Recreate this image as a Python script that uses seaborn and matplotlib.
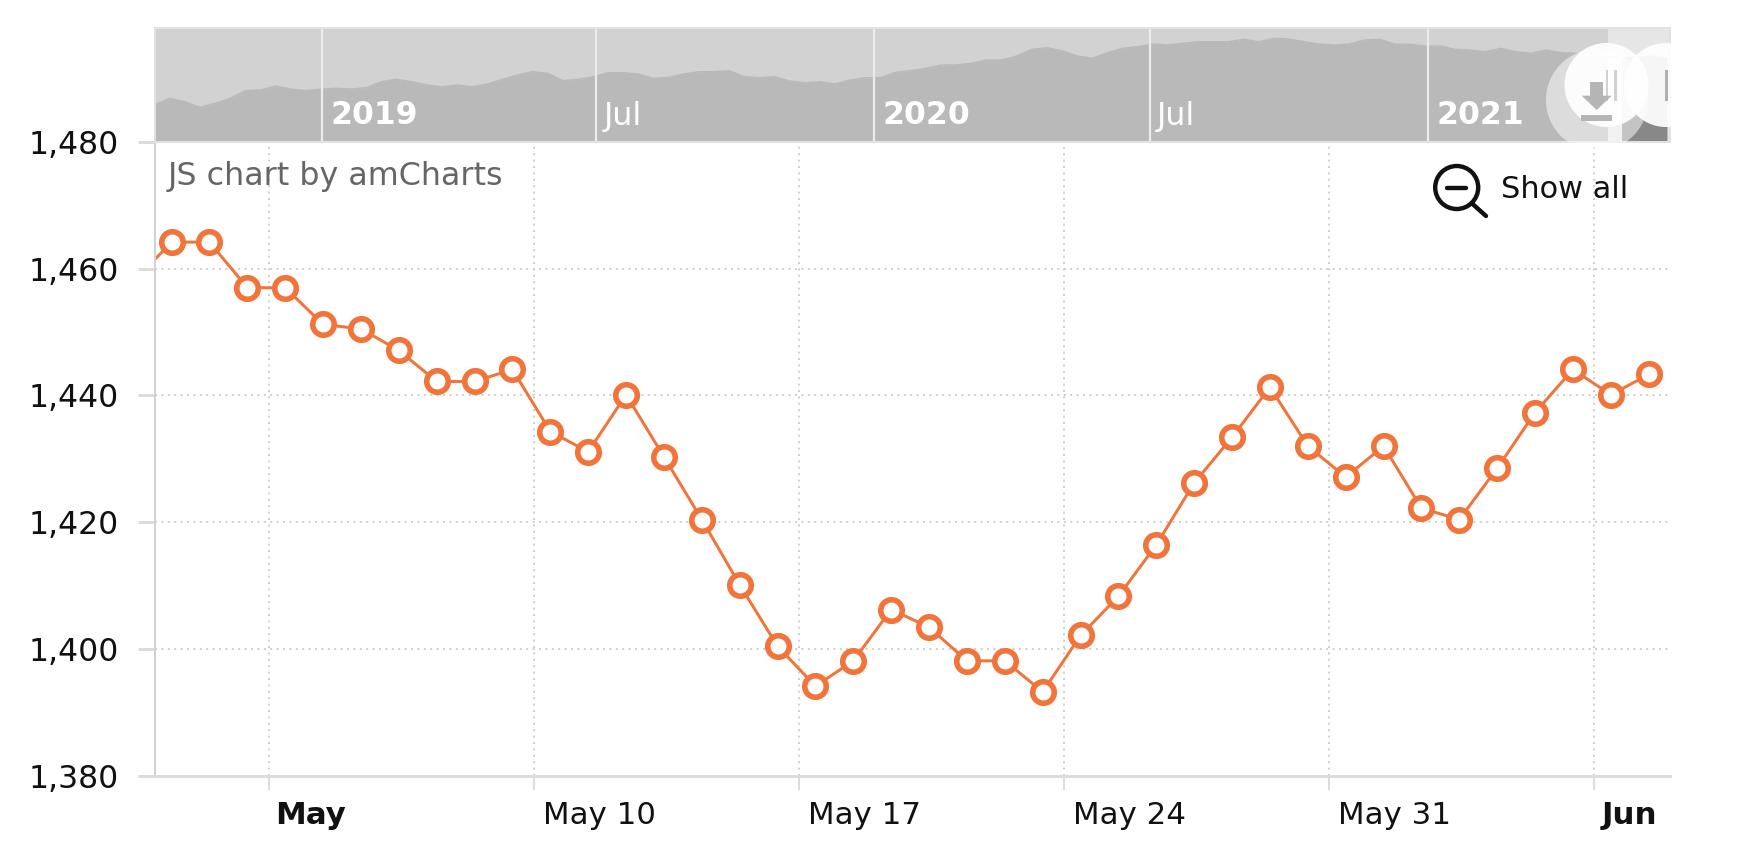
'''
Price chart with overview strip (amCharts look)
'''

import pandas as pd
import seaborn as sns
import matplotlib.pyplot as plt
import matplotlib.dates as mdates
from matplotlib.patches import Circle, Polygon, Rectangle
from matplotlib.transforms import ScaledTranslation

W, H = 1744, 868

# main series, first value sits left of the axis and only shows as the line entering
prices = [1458.0, 1464.2, 1464.2, 1457.0, 1457.0, 1451.2, 1450.5, 1447.1, 1442.2, 1442.2, 1444.1,
          1434.3, 1431.1, 1440.1, 1430.3, 1420.4, 1410.1, 1400.4, 1394.1, 1398.1, 1406.2,
          1403.4, 1398.1, 1398.1, 1393.2, 1402.1, 1408.3, 1416.4, 1426.2, 1433.4, 1441.3,
          1432.0, 1427.1, 1432.0, 1422.2, 1420.4, 1428.5, 1437.3, 1444.1, 1440.1, 1443.3]
y_ticks = [1380, 1400, 1420, 1440, 1460, 1480]
x_ticks = ["2021-05-03", "2021-05-10", "2021-05-17", "2021-05-24", "2021-05-31", "2021-06-07"]
x_labels = ["May", "May 10", "May 17", "May 24", "May 31", "Jun"]
x_bold = ["May", "Jun"]

# overview strip, one reading every 10 days (height in the strip)
overview = [37, 43.7, 40.3, 34.7, 38.7, 43.7, 51.3, 52, 56, 53, 51.3, 53, 53.7, 53, 54.3, 60.3, 62.7,
            60.3, 57, 55.3, 57, 55.3, 58, 62.7, 67, 70.3, 68.7, 61.3, 62.7, 65.3, 69.3, 69.3, 68,
            63.7, 64.7, 68, 70.3, 70.3, 71.3, 65.3, 64.3, 65.3, 61, 59.3, 60.3, 58, 62, 64.3, 64.3,
            69.7, 71.3, 73.7, 77, 77, 78.7, 82, 82, 86, 92.7, 94.3, 91.3, 86, 83.7, 89.3, 93.7, 95.3,
            98, 97, 98.7, 100.3, 100.3, 100.3, 102.7, 100.3, 103.7, 103, 100.3, 98, 97, 98, 102,
            102.7, 98, 97.7, 96, 96, 92.7, 92, 90.3, 93.7, 90.3, 88.7, 92, 89.3, 88.7, 85.3,
            85, 85, 86, 87, 85]
overview_ticks = ["2019-01-01", "2019-07-01", "2020-01-01", "2020-07-01", "2021-01-01"]
overview_labels = ["2019", "Jul", "2020", "Jul", "2021"]

sns.set_theme(style="white")
plt.rcParams['font.family'] = ['DejaVu Sans']

ORANGE = "#f1743a"
PX = 72 / 100  # one pixel in points at dpi 100

df = pd.DataFrame({"date": pd.date_range("2021-04-29 10:30", periods=len(prices), freq="D"), "price": prices})
df_over = pd.DataFrame({"date": pd.date_range("2018-09-12", periods=len(overview), freq="10D"), "level": overview})
sel_start, sel_end = pd.Timestamp("2021-04-30"), pd.Timestamp("2021-06-09")
ov_start, ov_end = pd.Timestamp("2018-09-12 08:00"), pd.Timestamp("2021-06-10")


def axes_px(left, top, right, bottom):
    return fig.add_axes([left / W, 1 - bottom / H, (right - left) / W, (bottom - top) / H])


fig = plt.figure(figsize=(W / 100, H / 100), dpi=100, facecolor="white")

'''
Main chart
'''
ax = axes_px(155, 142, 1670, 775.5)
ax.set_xlim(sel_start, sel_end)
ax.set_ylim(1380, 1480)
ax.grid(True, color="#cfcfcf", linestyle=(0, (1, 2.2)), linewidth=2 * PX)
ax.set_axisbelow(True)
sns.lineplot(data=df, x="date", y="price", ax=ax, color=ORANGE, linewidth=3 * PX, errorbar=None,
             marker="o", markersize=21.5 * PX, markerfacecolor="white",
             markeredgecolor=ORANGE, markeredgewidth=5.6 * PX)
ax.set_xlabel("")
ax.set_ylabel("")
ax.set_yticks(y_ticks)
ax.set_yticklabels([f"{v:,}" for v in y_ticks])
ax.set_xticks(pd.to_datetime(x_ticks))
ax.set_xticklabels(x_labels)
ax.tick_params(axis="y", left=True, length=17 * PX, width=3 * PX, color="#dcdcdc", pad=19 * PX,
               labelsize=22.7, labelcolor="#111111")
ax.tick_params(axis="x", bottom=True, length=14 * PX, width=2 * PX, color="#dcdcdc", pad=11.5 * PX,
               labelsize=22.2, labelcolor="#111111")
for lab in ax.get_xticklabels():
    bold = lab.get_text() in x_bold
    shift = ScaledTranslation((7 if bold else 9) / 100, 0, fig.dpi_scale_trans)
    lab.set_horizontalalignment("left")
    lab.set_transform(lab.get_transform() + shift)
    if bold:
        lab.set_fontweight("bold")
for side in ["top", "right"]:
    ax.spines[side].set_visible(False)
ax.spines["left"].set_color("#d2d2d2")
ax.spines["left"].set_linewidth(2 * PX)
ax.spines["bottom"].set_color("#dcdcdc")
ax.spines["bottom"].set_linewidth(3 * PX)

'''
Overview strip
'''
ov = axes_px(155, 28, 1670, 142)
ov.set_ylim(0, 114)
ov.set_facecolor("#d2d2d2")
before = df_over[df_over["date"] <= sel_start + pd.Timedelta(days=10)]
after = df_over[df_over["date"] >= sel_start - pd.Timedelta(days=10)]
ov.fill_between(before["date"], before["level"], 0, color="#b9b9b9", linewidth=0)
sns.lineplot(data=before, x="date", y="level", ax=ov, color="#b9b9b9", linewidth=1, errorbar=None)
ov.axvspan(sel_start, ov_end, color="#e6e6e6", linewidth=0)
ov.fill_between(after["date"], after["level"], 0, where=after["date"] >= sel_start, color="#888888", linewidth=0)
ov.set_xlim(ov_start, ov_end)
ov.set_xlabel("")
ov.set_ylabel("")
ov.set_yticks([])
ov.set_xticks([])
for d, lab in zip(pd.to_datetime(overview_ticks), overview_labels):
    is_year = lab != "Jul"
    ov.axvline(d, color="#ececec", linewidth=2.2 * PX)
    ov.annotate(lab, (mdates.date2num(d), 0), xytext=((8 if is_year else 7) * PX, (27 if is_year else 25) * PX),
                textcoords="offset points", color="white", fontsize=22.7, va="center", ha="left",
                fontweight="bold" if is_year else "normal")
for side in ov.spines.values():
    side.set_color("#e2e2e2")
    side.set_linewidth(2 * PX)

'''
Credit, zoom-out control and the export buttons
'''
top = fig.add_axes([0, 0, 1, 1])
top.set_xlim(0, W)
top.set_ylim(H, 0)
top.axis("off")
top.patch.set_alpha(0)

top.text(168, 176, "JS chart by amCharts", fontsize=22.9, color="#666666", va="center", ha="left")
top.text(1501, 190, "Show all", fontsize=21.9, color="#111111", va="center", ha="left")
top.add_patch(Circle((1456.7, 187.5), 21.5, fill=False, edgecolor="#111111", linewidth=4.4 * PX))
top.plot([1447, 1466], [187.5, 187.5], color="#111111", linewidth=4.4 * PX)
top.plot([1471.5, 1486], [203, 216], color="#111111", linewidth=4.4 * PX)

top.add_patch(Circle((1597, 100), 51, facecolor="white", alpha=0.5, linewidth=0))
top.add_patch(Circle((1606.5, 85), 42, facecolor="white", alpha=0.93, linewidth=0))
top.add_patch(Circle((1666, 85), 42, facecolor="white", alpha=0.93, linewidth=0))
top.add_patch(Rectangle((1605.7, 70), 2.2, 30.7, color="#d0d0d0", linewidth=0))
top.add_patch(Rectangle((1614, 70), 2.7, 30.7, color="#d0d0d0", linewidth=0))
top.add_patch(Rectangle((1665, 70), 2.5, 30.7, color="#b0b0b0", linewidth=0))
top.add_patch(Rectangle((1590, 81.7), 13.3, 14, color="#b5b5b5", linewidth=0))
top.add_patch(Polygon([(1581.7, 95.7), (1611.7, 95.7), (1596.7, 110)], color="#b5b5b5", linewidth=0))
top.add_patch(Rectangle((1581, 115.3), 31.3, 5.4, color="#b5b5b5", linewidth=0))

fig.savefig("out.png", dpi=100)
